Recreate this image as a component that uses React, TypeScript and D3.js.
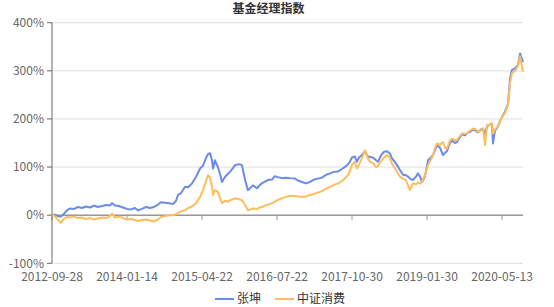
import React from "react";
import * as d3 from "d3";

// trading-day index of each sample (0 = 2012-09-28)
const dayIndex = [0,12,25,37,50,62,75,92,108,125,141,158,175,191,208,225,241,250,262,279,295,312,329,345,358,374,391,408,424,441,453,470,487,503,516,524,537,553,566,582,599,616,628,640,649,657,665,670,678,690,699,707,720,732,740,753,761,778,790,803,815,828,836,853,865,873,886,898,915,927,940,957,973,990,1011,1023,1040,1056,1073,1090,1106,1123,1140,1156,1173,1190,1206,1223,1235,1248,1260,1268,1277,1289,1302,1314,1323,1335,1348,1356,1368,1381,1393,1406,1414,1427,1435,1447,1460,1472,1481,1489,1501,1514,1522,1531,1539,1551,1564,1576,1585,1593,1601,1614,1626,1635,1643,1655,1664,1676,1684,1697,1705,1718,1726,1738,1751,1763,1772,1784,1793,1801,1809,1813,1822,1830,1834,1842,1855,1863,1872,1884,1897,1905,1913,1926,1938,1947,1959];

// 张坤 (%)
const zhangKun = [0,1,-2,-3,3,10,14,13,17,15,18,16,20,17,19,21,20,25,20,19,16,13,12,15,10,13,17,15,17,22,27,26,25,23,30,42,46,59,58,66,80,97,103,118,127,129,115,97,114,100,85,69,80,86,90,98,104,106,104,73,52,58,62,56,63,66,70,73,74,81,79,77,78,77,76,72,69,66,69,74,76,78,84,87,90,91,96,102,108,120,122,111,120,125,132,122,121,120,114,111,124,132,133,128,118,110,104,94,84,83,80,76,73,80,87,80,69,80,114,120,125,135,145,140,125,130,133,150,155,150,152,162,168,166,170,173,178,175,172,178,180,170,183,186,189,190,149,175,184,195,204,215,232,284,302,305,312,336,318];

// 中证消费 (%)
const csiConsumer = [0,-2,-10,-16,-7,-4,-5,-3,-6,-5,-8,-6,-9,-7,-5,-6,-2,3,-5,-3,-6,-9,-8,-10,-12,-10,-9,-11,-13,-9,-4,-2,0,0,2,5,8,10,15,18,25,38,52,70,83,78,60,42,52,48,35,25,30,28,31,33,35,33,31,21,10,12,14,13,16,17,20,22,25,28,32,35,38,40,40,39,38,39,42,44,47,50,55,59,63,66,71,79,86,105,111,97,105,118,135,118,111,108,100,102,112,120,125,118,107,97,90,80,76,73,62,52,66,64,68,66,70,83,104,115,125,140,149,146,152,140,139,155,159,156,156,165,170,169,170,176,180,178,173,176,180,146,187,187,188,191,170,178,184,195,204,212,230,275,295,300,310,330,298];

const totalDays = 1960;
const labelStep = 312;
const xLabels = ["2012-09-28","2014-01-14","2015-04-22","2016-07-22","2017-10-30","2019-01-30","2020-05-13"];
const yTicks = [-100, 0, 100, 200, 300, 400];

const seriesNames = ["张坤", "中证消费"];
const colors = ["#6b8be8", "#fdbd5d"];

export default function App() {
  const W = 554, H = 307;
  const left = 52, right = 523, top = 22.7, bottom = 263.3;
  const x = d3.scaleLinear().domain([0, totalDays - 1]).range([left, right]);
  const y = d3.scaleLinear().domain([-100, 400]).range([bottom, top]);
  const line = d3.line<number>()
    .x((_, i) => x(dayIndex[i]))
    .y((d) => y(d));
  const font = "'Microsoft YaHei','Noto Sans CJK SC','Noto Sans',sans-serif";
  const series = [zhangKun, csiConsumer];
  const legendX = [215, 275];
  return (
    <svg width={W} height={H} style={{ position: "absolute", left: 0, top: 0, background: "#fff" }} fontFamily={font}>
      <text x={268.5} y={12.5} textAnchor="middle" fontSize={12} fontWeight="bold" fill="#333">基金经理指数</text>
      {yTicks.map((t) => (
        <g key={t}>
          <line x1={left} x2={right} y1={y(t)} y2={y(t)} stroke="#e0e0e0" strokeWidth={1} />
          <line x1={left - 5} x2={left} y1={y(t)} y2={y(t)} stroke="#666" strokeWidth={1} />
          <text x={left - 8} y={y(t)} dy="0.35em" textAnchor="end" fontSize={12} fill="#666">{t}%</text>
        </g>
      ))}
      <line x1={left} x2={right} y1={y(0)} y2={y(0)} stroke="#999" strokeWidth={1.5} />
      {xLabels.map((lab, i) => (
        <g key={lab}>
          <line x1={x(i * labelStep)} x2={x(i * labelStep)} y1={y(0)} y2={y(0) + 5} stroke="#999" strokeWidth={1} />
          <text x={x(i * labelStep)} y={280.5} textAnchor="middle" fontSize={12} fill="#666">{lab}</text>
        </g>
      ))}
      <line x1={left} x2={left} y1={top} y2={bottom} stroke="#666" strokeWidth={1} />
      {series.map((s, k) => (
        <path key={k} d={line(s) || ""} fill="none" stroke={colors[k]} strokeWidth={2} strokeLinejoin="round" />
      ))}
      {seriesNames.map((n, k) => (
        <g key={n}>
          <line x1={legendX[k]} x2={legendX[k] + 19} y1={299} y2={299} stroke={colors[k]} strokeWidth={2} />
          <text x={legendX[k] + 22} y={299} dy="0.35em" fontSize={12} fill="#333">{n}</text>
        </g>
      ))}
    </svg>
  );
}
